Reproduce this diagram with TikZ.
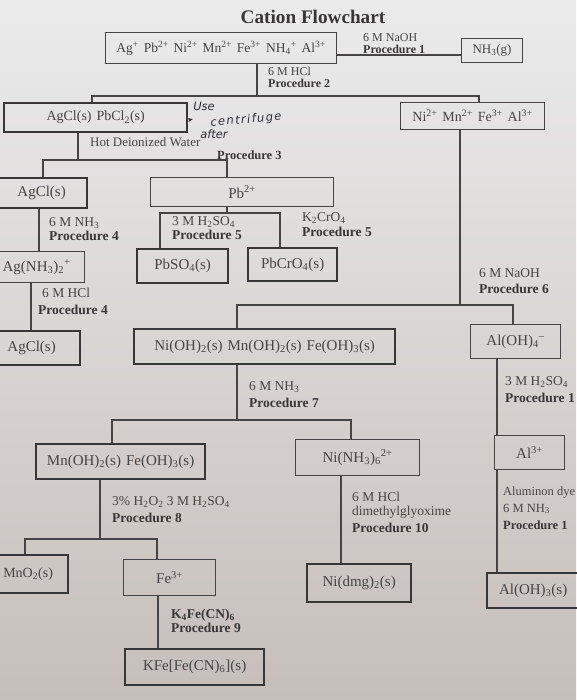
\documentclass[tikz,border=0pt]{standalone}
\usepackage{fontspec}
\setmainfont{Liberation Serif}
\newfontfamily\handfont{DejaVu Sans}
\usetikzlibrary{arrows.meta}
\newcommand\sbs[1]{\textsubscript{#1}}
\newcommand\sps[1]{\textsuperscript{#1}}
\newcommand\gp{\hspace{5pt}}
\definecolor{ink}{HTML}{464444}
\definecolor{inkdark}{HTML}{383636}
\definecolor{pen}{HTML}{303038}
\definecolor{papertop}{HTML}{EBEBEC}
\definecolor{paperbot}{HTML}{C6BEBA}
\begin{document}
\begin{tikzpicture}[x=1pt,y=-1pt,
  ion/.style={draw=ink, line width=1.1pt, anchor=north west, inner sep=0pt, text=ink,
              font=\fontsize{15}{17}\selectfont},
  ppt/.style={ion, draw=inkdark, line width=2.3pt},
  lab/.style={anchor=west, inner sep=0pt, text=ink, font=\fontsize{13.5}{15}\selectfont},
  blab/.style={lab, text=inkdark, font=\fontsize{13.5}{15}\selectfont\bfseries},
  conn/.style={draw=ink, line width=1.1pt},
  hand/.style={inner sep=0pt, text=pen, font=\handfont\itshape\fontsize{11.5}{13}\selectfont},
]
\useasboundingbox (0,0) rectangle (576,700);
\shade[top color=papertop, bottom color=paperbot] (0,0) rectangle (576,700);

% title
\node[inner sep=0pt, text=inkdark, font=\fontsize{19.2}{21}\selectfont\bfseries] (title) at (313,17) {Cation Flowchart};

% boxes
\node[ion, minimum width=231, minimum height=31, font=\fontsize{13.5}{15}\selectfont] (box1) at (105,32)
  {Ag\sps{+}\gp Pb\sps{2+}\gp Ni\sps{2+}\gp Mn\sps{2+}\gp Fe\sps{3+}\gp NH\sbs{4}\sps{+}\gp Al\sps{3+}};
\node[ion, minimum width=61, minimum height=24, font=\fontsize{13}{15}\selectfont] (nh3) at (461,38) {NH\sbs{3}(g)};
\node[ppt, minimum width=183, minimum height=29, font=\fontsize{14}{16}\selectfont] (agpb) at (3,102) {AgCl(s)\gp PbCl\sbs{2}(s)};
\node[ion, minimum width=144, minimum height=27, font=\fontsize{14}{16}\selectfont] (nimn) at (400,102)
  {Ni\sps{2+}\gp Mn\sps{2+}\gp Fe\sps{3+}\gp Al\sps{3+}};
\node[ppt, minimum width=91, minimum height=30] (agcl1) at (-5,177) {AgCl(s)};
\node[ion, minimum width=183, minimum height=29] (pb) at (150,177) {Pb\sps{2+}};
\node[ion, minimum width=96, minimum height=31] (agnh3) at (-12,251) {Ag(NH\sbs{3})\sbs{2}\sps{+}};
\node[ppt, minimum width=91, minimum height=34] (pbso4) at (136,248) {PbSO\sbs{4}(s)};
\node[ppt, minimum width=89, minimum height=33] (pbcro4) at (247,247) {PbCrO\sbs{4}(s)};
\node[ppt, minimum width=97, minimum height=34] (agcl2) at (-18,330) {AgCl(s)};
\node[ppt, minimum width=261, minimum height=35] (nioh) at (133,328)
  {Ni(OH)\sbs{2}(s)\gp Mn(OH)\sbs{2}(s)\gp Fe(OH)\sbs{3}(s)};
\node[ion, minimum width=90, minimum height=34] (aloh4) at (470,324) {Al(OH)\sbs{4}\sps{\textendash}};
\node[ppt, minimum width=169, minimum height=35] (mnfe) at (35,443) {Mn(OH)\sbs{2}(s)\gp Fe(OH)\sbs{3}(s)};
\node[ion, minimum width=124, minimum height=36] (ninh3) at (295,439) {Ni(NH\sbs{3})\sbs{6}\sps{2+}};
\node[ion, minimum width=70, minimum height=34] (al3) at (494,435) {Al\sps{3+}};
\node[ppt, minimum width=80, minimum height=38, font=\fontsize{14}{16}\selectfont] (mno2) at (-13,554) {MnO\sbs{2}(s)};
\node[ion, minimum width=92, minimum height=36] (fe3) at (123,559) {Fe\sps{3+}};
\node[ppt, minimum width=104, minimum height=38] (nidmg) at (306,563) {Ni(dmg)\sbs{2}(s)};
\node[ppt, minimum width=92, minimum height=35] (aloh3) at (486,572) {Al(OH)\sbs{3}(s)};
\node[ppt, minimum width=139, minimum height=36] (kfe) at (124,648) {KFe[Fe(CN)\sbs{6}](s)};

% junction coordinates
\coordinate (p1) at (400,55);
\coordinate (j1) at (257,96);  \coordinate (j1a) at (92,96);   \coordinate (j1b) at (479,96);
\coordinate (j2) at (78,160);  \coordinate (j2a) at (43,160);  \coordinate (j2b) at (227,160);
\coordinate (j3) at (227,213); \coordinate (j3a) at (160,213); \coordinate (j3b) at (280,213);
\coordinate (v1) at (39,0);    \coordinate (v2) at (31,0);
\coordinate (j4) at (460,305); \coordinate (j4a) at (237,305); \coordinate (j4b) at (513,305);
\coordinate (j5) at (237,420); \coordinate (j5a) at (112,420); \coordinate (j5b) at (351,420);
\coordinate (v3) at (497,0);   \coordinate (v4) at (341,0);
\coordinate (j6) at (100,539); \coordinate (j6a) at (25,539);  \coordinate (j6b) at (157,539);
\coordinate (v5) at (158,0);

% connectors
\draw[conn] (box1.east |- p1) -- (nh3.west |- p1);
\draw[conn] (box1.south -| j1) -- (j1);
\draw[conn] (agpb.north -| j1a) -- (j1a) -- (j1b) -- (nimn.north -| j1b);
\draw[conn] (agpb.south -| j2) -- (j2);
\draw[conn] (agcl1.north -| j2a) -- (j2a) -- (j2b) -- (pb.north -| j2b);
\draw[conn] (pb.south -| j3) -- (j3);
\draw[conn] (pbso4.north -| j3a) -- (j3a) -- (j3b) -- (pbcro4.north -| j3b);
\draw[conn] (agcl1.south -| v1) -- (agnh3.north -| v1);
\draw[conn] (agnh3.south -| v2) -- (agcl2.north -| v2);
\draw[conn] (nimn.south -| j4) -- (j4);
\draw[conn] (nioh.north -| j4a) -- (j4a) -- (j4b) -- (aloh4.north -| j4b);
\draw[conn] (nioh.south -| j5) -- (j5);
\draw[conn] (mnfe.north -| j5a) -- (j5a) -- (j5b) -- (ninh3.north -| j5b);
\draw[conn] (aloh4.south -| v3) -- (al3.north -| v3);
\draw[conn] (al3.south -| v3) -- (aloh3.north -| v3);
\draw[conn] (ninh3.south -| v4) -- (nidmg.north -| v4);
\draw[conn] (mnfe.south -| j6) -- (j6);
\draw[conn] (mno2.north -| j6a) -- (j6a) -- (j6b) -- (fe3.north -| j6b);
\draw[conn] (fe3.south -| v5) -- (kfe.north -| v5);

% labels
\node[lab, font=\fontsize{12}{14}\selectfont]  (l1a) at (363,38) {6 M NaOH};
\node[blab, font=\fontsize{12}{14}\selectfont\bfseries] (l1b) at (363,49) {Procedure 1};
\node[lab, font=\fontsize{12}{14}\selectfont]  (l2a) at (268,71) {6 M HCl};
\node[blab, font=\fontsize{12}{14}\selectfont\bfseries] (l2b) at (268,83) {Procedure 2};
\node[lab, font=\fontsize{13}{15}\selectfont]  (l3a) at (90,142) {Hot Deionized Water};
\node[blab, font=\fontsize{12.5}{14}\selectfont\bfseries] (l3b) at (217,155) {Procedure 3};
\node[lab]  (l4a) at (49,223) {6 M NH\sbs{3}};
\node[blab] (l4b) at (49,236) {Procedure 4};
\node[lab]  (l5a) at (172,222) {3 M H\sbs{2}SO\sbs{4}};
\node[blab] (l5b) at (172,235) {Procedure 5};
\node[lab]  (l6a) at (302,218) {K\sbs{2}CrO\sbs{4}};
\node[blab] (l6b) at (302,232) {Procedure 5};
\node[lab]  (l7a) at (479,273) {6 M NaOH};
\node[blab] (l7b) at (479,289) {Procedure 6};
\node[lab]  (l8a) at (42,293) {6 M HCl};
\node[blab] (l8b) at (38,310) {Procedure 4};
\node[lab]  (l9a) at (249,387) {6 M NH\sbs{3}};
\node[blab] (l9b) at (249,403) {Procedure 7};
\node[lab]  (l10a) at (505,382) {3 M H\sbs{2}SO\sbs{4}};
\node[blab] (l10b) at (505,398) {Procedure 1};
\node[lab]  (l11a) at (112,502) {3\% H\sbs{2}O\sbs{2} 3 M H\sbs{2}SO\sbs{4}};
\node[blab] (l11b) at (112,518) {Procedure 8};
\node[lab]  (l12a) at (352,497) {6 M HCl};
\node[lab]  (l12b) at (352,512) {dimethylglyoxime};
\node[blab] (l12c) at (352,528) {Procedure 10};
\node[lab, font=\fontsize{12.5}{14}\selectfont]  (l13a) at (503,493) {Aluminon dye};
\node[lab, font=\fontsize{12.5}{14}\selectfont]  (l13b) at (503,509) {6 M NH\sbs{3}};
\node[blab, font=\fontsize{12.5}{14}\selectfont\bfseries] (l13c) at (503,525) {Procedure 1};
\node[blab] (l14a) at (171,615) {K\sbs{4}Fe(CN)\sbs{6}};
\node[blab] (l14b) at (171,628) {Procedure 9};

% handwritten note
\coordinate (a0) at (0,120);
\coordinate (a1) at (193,119);
\draw[draw=pen, line width=0.8pt, -{Stealth[length=5pt]}] (agpb.east |- a0) -- (a1);
\node[hand] (hw1) at (204,106) {Use};
\node[hand, rotate=5] (hw2) at (246,120) {\addfontfeatures{LetterSpace=12}centrifuge};
\node[hand] (hw3) at (214,134) {after};
\end{tikzpicture}
\end{document}
